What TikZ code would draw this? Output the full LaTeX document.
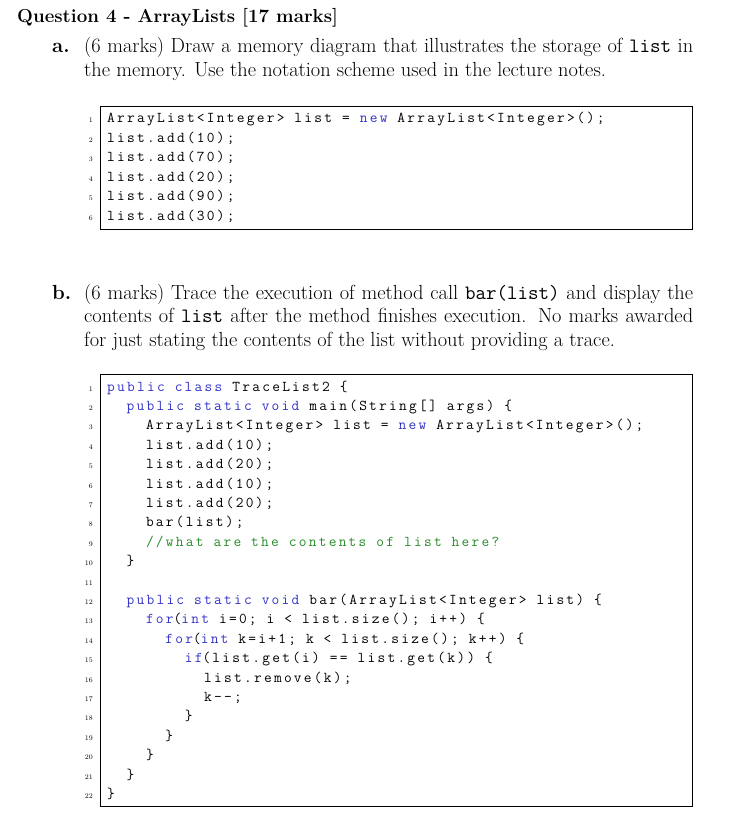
\documentclass[tikz,border=0pt]{standalone}
\usepackage{fontspec}
\setmainfont{Latin Modern Roman}
\newfontfamily\codefont[LetterSpace=15]{Latin Modern Mono}
\newfontfamily\ttb{Latin Modern Mono}
\definecolor{kw}{RGB}{50,50,200}
\definecolor{cm}{RGB}{40,140,40}
\newcommand{\kw}[1]{\textcolor{kw}{#1}}
\newcommand{\ls}{{\ttb\bfseries list}}
\begin{document}
\begin{tikzpicture}[x=1pt,y=-1pt,
  body/.style={anchor=base west,inner sep=0,font=\fontsize{20.4}{24}\selectfont},
  code/.style={anchor=base west,inner sep=0,font=\codefont\fontsize{15}{18}\selectfont},
  num/.style={anchor=base east,inner sep=0,font=\fontsize{7}{8}\selectfont},
  frame/.style={draw,line width=0.8pt}]
\useasboundingbox (0,0) rectangle (739,829);
\node[body,font=\fontsize{18.75}{20}\selectfont\bfseries] (title) at (17,23) {Question 4 - ArrayLists [17 marks]};
\node[body,font=\fontsize{20.4}{24}\selectfont\bfseries] (alab) at (52,53) {a.};
\node[body] (a1) at (84,53) {\makebox[609pt][s]{(6 marks) Draw a memory diagram that illustrates the storage of \ls{} in}};
\node[body] (a2) at (84,77) {the memory. Use the notation scheme used in the lecture notes.};
\node[frame,minimum width=592pt,minimum height=123pt,anchor=north west,inner sep=0] (boxa) at (100,106) {};
\foreach \i/\t in {1/{ArrayList<Integer> list = \kw{new} ArrayList<Integer>();},2/{list.add(10);},3/{list.add(70);},4/{list.add(20);},5/{list.add(90);},6/{list.add(30);}}{
  \node[num] (an\i) at (93,{123+19.4*(\i-1)}) {\i};
  \node[code] (ac\i) at (107,{123+19.4*(\i-1)}) {\t};
}
\node[body,font=\fontsize{20.4}{24}\selectfont\bfseries] (blab) at (52,299) {b.};
\node[body] (b1) at (84,299) {\makebox[609pt][s]{(6 marks) Trace the execution of method call {\ttb\bfseries bar(list)} and display the}};
\node[body] (b2) at (84,322) {\makebox[609pt][s]{contents of \ls{} after the method finishes execution. No marks awarded}};
\node[body] (b3) at (84,346) {for just stating the contents of the list without providing a trace.};
\node[frame,minimum width=592pt,minimum height=432pt,anchor=north west,inner sep=0] (boxb) at (100,374) {};
\foreach \i/\n/\t in {
1/0/{\kw{public} \kw{class} TraceList2 \{},
2/2/{\kw{public} \kw{static} \kw{void} main(String[] args) \{},
3/4/{ArrayList<Integer> list = \kw{new} ArrayList<Integer>();},
4/4/{list.add(10);},
5/4/{list.add(20);},
6/4/{list.add(10);},
7/4/{list.add(20);},
8/4/{bar(list);},
9/4/{\textcolor{cm}{//what are the contents of list here?}},
10/2/{\}},
11/0/{},
12/2/{\kw{public} \kw{static} \kw{void} bar(ArrayList<Integer> list) \{},
13/4/{\kw{for}(\kw{int} i=0; i < list.size(); i++) \{},
14/6/{\kw{for}(\kw{int} k=i+1; k < list.size(); k++) \{},
15/8/{\kw{if}(list.get(i) == list.get(k)) \{},
16/10/{list.remove(k);},
17/10/{k--;},
18/8/{\}},
19/6/{\}},
20/4/{\}},
21/2/{\}},
22/0/{\}}}{
  \node[num] (bn\i) at (93,{391+19.4*(\i-1)}) {\i};
  \node[code] (bc\i) at ({107+9.7*\n},{391+19.4*(\i-1)}) {\t};
}
\end{tikzpicture}
\end{document}
